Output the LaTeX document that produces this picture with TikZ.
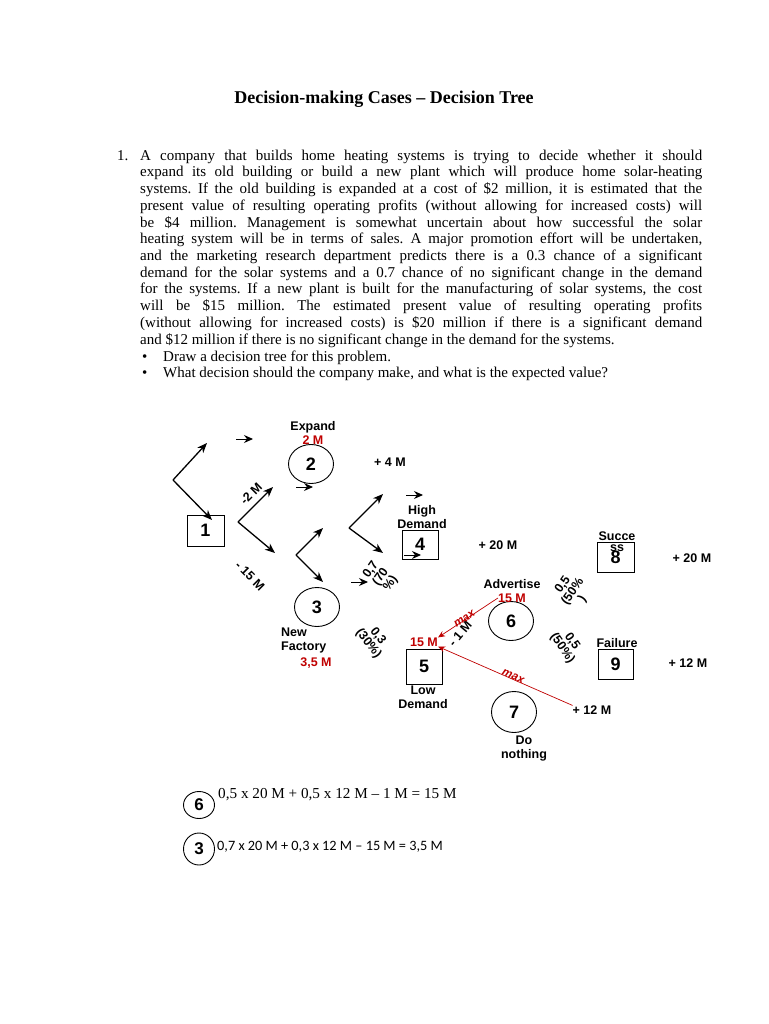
\documentclass[tikz,border=0pt]{standalone}
\usepackage{fontspec}
\setmainfont{Liberation Serif}
\newfontfamily\arialf{Liberation Sans}
\newfontfamily\calibf{Carlito}
\usetikzlibrary{shapes.geometric,arrows.meta}
\definecolor{darkred}{RGB}{192,0,0}
\newcommand{\jline}[1]{\hbox to 562pt{\spaceskip=0.25em plus 1fil\relax #1}}
\begin{document}
\begin{tikzpicture}[x=1pt,y=-1pt,
 lbl/.style={font=\arialf\bfseries\fontsize{12.5}{14}\selectfont, inner sep=0pt, align=center},
 redlbl/.style={lbl, text=darkred},
 maxlbl/.style={font=\arialf\bfseries\itshape\fontsize{11.5}{12}\selectfont, text=darkred, inner sep=0.5pt},
 numbox/.style={draw, line width=1pt, minimum width=37pt, minimum height=31pt, inner sep=0pt,
   font=\arialf\bfseries\fontsize{18}{18}\selectfont},
 chance/.style={draw, ellipse, line width=0.9pt, minimum width=45pt, minimum height=39pt, inner sep=0pt,
   font=\arialf\bfseries\fontsize{18}{18}\selectfont},
 smallchance/.style={draw, ellipse, line width=0.9pt, minimum width=31pt, minimum height=29pt, inner sep=0pt,
   font=\arialf\bfseries\fontsize{17}{17}\selectfont},
 branch/.style={line width=1.3pt, -{Stealth[length=10pt,width=8pt,inset=3pt]}},
 minarr/.style={line width=1pt, -{Stealth[length=9pt,width=8pt,inset=3pt]}},
 redarr/.style={draw=darkred, line width=0.7pt, -{Stealth[length=7pt,width=6pt]}},
 body/.style={font=\fontsize{15}{16.73}\selectfont, inner sep=0pt},
]
\useasboundingbox (0,0) rectangle (768,1024);
\fill[white] (0,0) rectangle (768,1024);

% Title
\node[anchor=base, inner sep=0pt, font=\bfseries\fontsize{18}{20}\selectfont] (title) at (384,104)
  {Decision-making Cases – Decision Tree};

% Problem text
\node[body, anchor=base west] (num) at (117,161) {1.};
\node[body, anchor=north west] (para) at (140,149.5) {\frenchspacing\vbox{\baselineskip=16.73pt
\jline{A company that builds home heating systems is trying to decide whether it should}
\jline{expand its old building or build a new plant which will produce home solar-heating}
\jline{systems. If the old building is expanded at a cost of \$2 million, it is estimated that the}
\jline{present value of resulting operating profits (without allowing for increased costs) will}
\jline{be \$4 million. Management is somewhat uncertain about how successful the solar}
\jline{heating system will be in terms of sales. A major promotion effort will be undertaken,}
\jline{and the marketing research department predicts there is a 0.3 chance of a significant}
\jline{demand for the solar systems and a 0.7 chance of no significant change in the demand}
\jline{for the systems. If a new plant is built for the manufacturing of solar systems, the cost}
\jline{will be \$15 million. The estimated present value of resulting operating profits}
\jline{(without allowing for increased costs) is \$20 million if there is a significant demand}
\hbox{and \$12 million if there is no significant change in the demand for the systems.}}};
\node[body, anchor=base west] (b1) at (142,361) {•};
\node[body, anchor=base west] (t1) at (163,361) {Draw a decision tree for this problem.};
\node[body, anchor=base west] (b2) at (142,377.7) {•};
\node[body, anchor=base west] (t2) at (163,377.7) {What decision should the company make, and what is the expected value?};

% Branch arrows
\coordinate (va) at (173,480); \coordinate (a1) at (207,443); \coordinate (a2) at (212,520);
\coordinate (vb) at (238,522); \coordinate (b1t) at (273,487); \coordinate (b2t) at (275,553);
\coordinate (vc) at (296,555); \coordinate (c1) at (323,528); \coordinate (c2) at (323,582);
\coordinate (vd) at (349,528); \coordinate (d1) at (383,494); \coordinate (d2) at (383,553);
\draw[branch] (va) -- (a1);
\draw[branch] (va) -- (a2);
\draw[branch] (vb) -- (b1t);
\draw[branch] (vb) -- (b2t);
\draw[branch] (vc) -- (c1);
\draw[branch] (vc) -- (c2);
\draw[branch] (vd) -- (d1);
\draw[branch] (vd) -- (d2);

% small arrows
\coordinate (m1s) at (236,439); \coordinate (m1e) at (253,439);
\coordinate (m2s) at (296,487); \coordinate (m2e) at (313,487);
\coordinate (m3s) at (406,495); \coordinate (m3e) at (423,495);
\coordinate (m4s) at (404,555); \coordinate (m4e) at (421,555);
\coordinate (m5s) at (351,582); \coordinate (m5e) at (368,582);
\draw[minarr] (m1s) -- (m1e);
\draw[minarr] (m2s) -- (m2e);
\draw[minarr] (m3s) -- (m3e);
\draw[minarr] (m5s) -- (m5e);

% Decision / chance nodes
\node[numbox] (n1) at (205.5,530.5) {1};
\node[chance] (n2) at (311,464) {2};
\node[chance] (n3) at (317,607) {3};
\node[numbox, minimum width=36pt, minimum height=29pt] (n4) at (420,544.5) {4};
\draw[minarr] (m4s) -- (m4e);
\node[numbox, minimum width=36pt, minimum height=35pt] (n5) at (424,666.5) {5};
\node[chance] (n6) at (511,621) {6};
\node[chance, minimum height=41pt] (n7) at (514,712) {7};
\node[numbox, minimum height=30pt] (n8) at (615.5,557) {8};
\node[numbox, minimum width=35pt, minimum height=30pt] (n9) at (615.5,664) {9};

% Labels
\node[lbl] (lexp) at (313,427) {Expand};
\node[redlbl] (lexp2) at (313,440.5) {2 M};
\node[lbl] (p4) at (390,462) {+ 4 M};
\node[lbl, rotate=45] (m2) at (251,494) {-2 M};
\node[lbl, rotate=-45] (m15) at (250,576) {- 15 M};
\node[lbl] (lhigh) at (422,517) {High\\Demand};
\node[lbl, rotate=55, font=\arialf\bfseries\fontsize{12.5}{12}\selectfont] (p07) at (381,577) {0,7\\(70\\\%)};
\node[lbl] (p20a) at (498,545) {+ 20 M};
\node[lbl] (ladv) at (512,584) {Advertise};
\node[redlbl] (adv15) at (512,598) {15 M};
\node[redlbl] (ld15) at (424,642) {15 M};
\node[lbl, rotate=50] (m1) at (460,634) {- 1 M};
\node[lbl, rotate=-52, font=\arialf\bfseries\fontsize{12.5}{12}\selectfont] (p03) at (373,640) {0,3\\(30\%)};
\node[lbl, align=left, anchor=north west] (lnew) at (281,628) {New\\Factory};
\node[redlbl] (l35) at (316,663) {3,5 M};
\node[lbl] (llow) at (423,697) {Low\\Demand};
\node[lbl, rotate=55, font=\arialf\bfseries\fontsize{12.5}{12}\selectfont] (p05a) at (573,592) {0,5\\(50\%\\)};
\node[lbl, rotate=-55, font=\arialf\bfseries\fontsize{12.5}{12}\selectfont] (p05b) at (567,645) {0,5\\(50\%)};
\node[lbl] (lsuc) at (617,536.5) {Succe};
\node[lbl] (lss) at (617,548.5) {ss};
\node[lbl] (p20b) at (692,558) {+ 20 M};
\node[lbl] (lfail) at (617,643) {Failure};
\node[lbl] (p12a) at (688,663) {+ 12 M};
\node[lbl] (p12b) at (592,710) {+ 12 M};
\node[lbl] (ldo) at (524,749) {Do\\nothing};

% red max arrows
\draw[redarr] (adv15.west) -- node[maxlbl, sloped, above=-3pt, pos=0.55] {max} (ld15.north east);
\draw[redarr] (p12b.north west) -- node[maxlbl, sloped, above=-1pt, pos=0.45] {max} (ld15.south east);

% Bottom calculations
\node[smallchance, minimum height=27pt] (c6) at (199,805) {6};
\node[smallchance, minimum height=32pt] (c3) at (199,849) {3};
\node[anchor=base west, inner sep=0pt, font=\fontsize{15.2}{16}\selectfont] (eq1) at (218,798)
  {0,5 x 20 M + 0,5 x 12 M – 1 M = 15 M};
\node[anchor=base west, inner sep=0pt, font=\calibf\fontsize{14.3}{16}\selectfont] (eq2) at (217,850)
  {0,7 x 20 M + 0,3 x 12 M – 15 M = 3,5 M};
\end{tikzpicture}
\end{document}
